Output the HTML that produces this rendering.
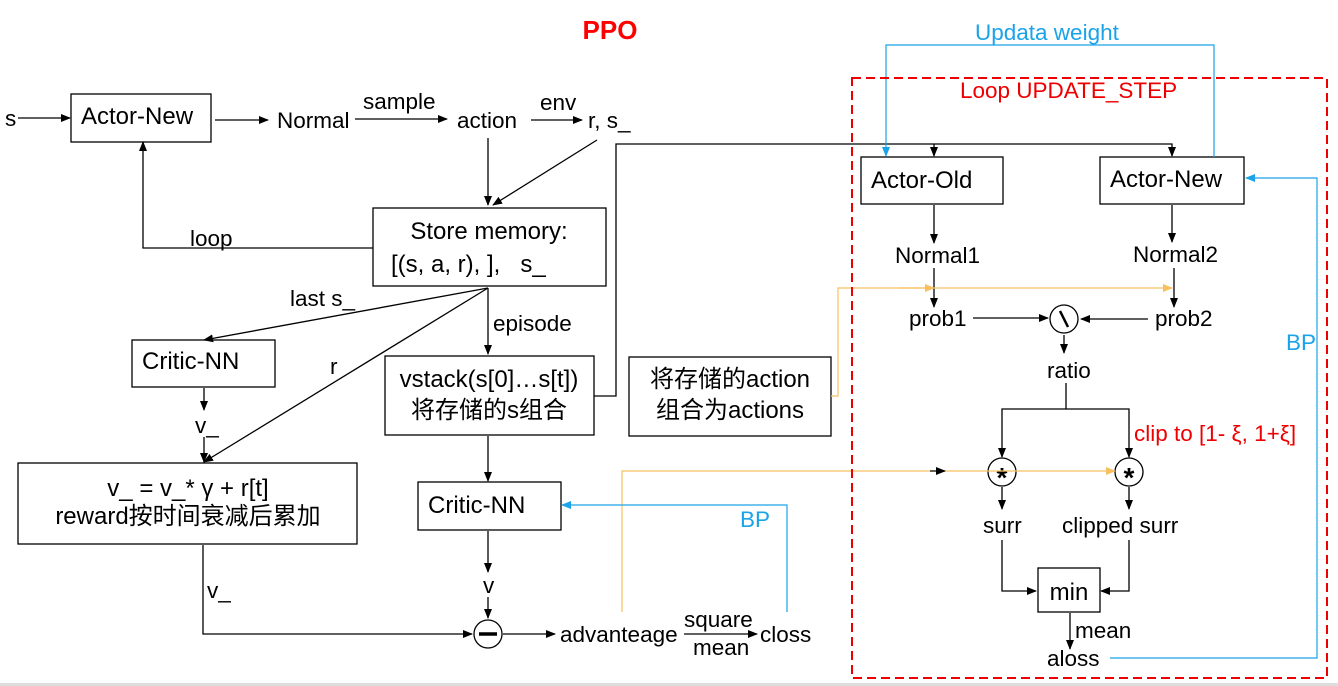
<!DOCTYPE html>
<html><head><meta charset="utf-8"><style>
html,body{margin:0;padding:0;background:#fff}
svg{display:block}
text{font-family:"Liberation Sans","Noto Sans CJK SC",sans-serif;font-size:24px;fill:#000}
.s{font-size:22.5px}
</style></head><body>
<svg width="1338" height="686" viewBox="0 0 1338 686" xmlns="http://www.w3.org/2000/svg">
<defs>
<marker id="a" markerWidth="10" markerHeight="8" refX="9" refY="4" orient="auto" markerUnits="userSpaceOnUse"><path d="M0,0 L10,4 L0,8 z" fill="#000"/></marker>
<marker id="b" markerWidth="10" markerHeight="8" refX="9" refY="4" orient="auto" markerUnits="userSpaceOnUse"><path d="M0,0 L10,4 L0,8 z" fill="#1aa3e8"/></marker>
<marker id="o" markerWidth="10" markerHeight="8" refX="9" refY="4" orient="auto" markerUnits="userSpaceOnUse"><path d="M0,0 L10,4 L0,8 z" fill="#f8c060"/></marker>
</defs>
<rect x="0" y="683" width="1338" height="3" fill="#ddd"/>
<text x="610" y="39" text-anchor="middle" style="font-size:26px;font-weight:bold;fill:#f00">PPO</text>

<g stroke="#000" stroke-width="1.3" fill="none">
<line x1="18" y1="118" x2="70" y2="118" marker-end="url(#a)"/>
<rect x="71" y="94" width="140" height="48"/>
<line x1="215" y1="120" x2="268" y2="120" marker-end="url(#a)"/>
<line x1="355" y1="119" x2="447" y2="119" marker-end="url(#a)"/>
<line x1="531" y1="120" x2="582" y2="120" marker-end="url(#a)"/>
<line x1="488" y1="138" x2="488" y2="205" marker-end="url(#a)"/>
<line x1="597" y1="140" x2="493" y2="205" marker-end="url(#a)"/>
<rect x="373" y="208" width="233" height="78"/>
<polyline points="373,248 143,248 143,142" marker-end="url(#a)"/>
<line x1="488" y1="288" x2="204" y2="340" marker-end="url(#a)"/>
<line x1="488" y1="288" x2="204" y2="462" marker-end="url(#a)"/>
<line x1="488" y1="288" x2="488" y2="354" marker-end="url(#a)"/>
<rect x="132" y="340" width="143" height="47"/>
<line x1="204" y1="388" x2="204" y2="410" marker-end="url(#a)"/>
<line x1="204" y1="437" x2="204" y2="462" marker-end="url(#a)"/>
<rect x="18" y="463" width="339" height="81"/>
<polyline points="203,545 203,634 472,634" marker-end="url(#a)"/>
<rect x="385" y="356" width="209" height="79"/>
<polyline points="594,396 616,396 616,144 1172,144 1172,156" marker-end="url(#a)"/>
<line x1="934" y1="144" x2="934" y2="156" marker-end="url(#a)"/>
<rect x="629" y="357" width="202" height="79"/>
<line x1="488" y1="436" x2="488" y2="481" marker-end="url(#a)"/>
<rect x="418" y="482" width="143" height="48"/>
<line x1="488" y1="531" x2="488" y2="572" marker-end="url(#a)"/>
<line x1="488" y1="597" x2="488" y2="618" marker-end="url(#a)"/>
<circle cx="488" cy="634" r="14"/>
<line x1="503" y1="634" x2="555" y2="634" marker-end="url(#a)"/>
<line x1="684" y1="634" x2="757" y2="634" marker-end="url(#a)"/>

<rect x="861" y="157" width="142" height="47"/>
<rect x="1100" y="157" width="144" height="47"/>
<line x1="934" y1="205" x2="934" y2="243" marker-end="url(#a)"/>
<line x1="1172" y1="205" x2="1172" y2="242" marker-end="url(#a)"/>
<line x1="934" y1="268" x2="934" y2="307" marker-end="url(#a)"/>
<line x1="1174" y1="268" x2="1174" y2="307" marker-end="url(#a)"/>
<circle cx="1064" cy="319" r="14"/>
<line x1="973" y1="318" x2="1048" y2="318" marker-end="url(#a)"/>
<line x1="1148" y1="319" x2="1081" y2="319" marker-end="url(#a)"/>
<line x1="1064" y1="335" x2="1064" y2="353" marker-end="url(#a)"/>
<polyline points="1066,383 1066,409 1002,409 1002,457" marker-end="url(#a)"/>
<polyline points="1066,409 1129,409 1129,457" marker-end="url(#a)"/>
<circle cx="1002" cy="472" r="14"/>
<circle cx="1129" cy="472" r="14"/>
<line x1="1002" y1="487" x2="1002" y2="509" marker-end="url(#a)"/>
<line x1="1129" y1="487" x2="1129" y2="509" marker-end="url(#a)"/>
<polyline points="1002,540 1002,591 1036,591" marker-end="url(#a)"/>
<polyline points="1129,540 1129,591 1101,591" marker-end="url(#a)"/>
<rect x="1038" y="568" width="62" height="44"/>
<line x1="1070" y1="613" x2="1070" y2="649" marker-end="url(#a)"/>
</g>
<g stroke="#000" stroke-width="3.5">
<line x1="479" y1="634" x2="497" y2="634"/>
<line x1="1060" y1="311" x2="1068" y2="327" stroke-width="2.5"/>
</g>
<text x="1002" y="487" text-anchor="middle" style="font-size:28px;font-weight:bold">*</text>
<text x="1129" y="487" text-anchor="middle" style="font-size:28px;font-weight:bold">*</text>

<g fill="none" stroke-width="1.2">
<polyline points="831,396 838,396 838,288 1172,288" stroke="#f8c060" marker-end="url(#o)"/>
<line x1="900" y1="288" x2="934" y2="288" stroke="#f8c060" marker-end="url(#o)"/>
<polyline points="622,612 622,471 1115,471" stroke="#f8c060" marker-end="url(#o)"/>
<line x1="930" y1="471" x2="945" y2="471" stroke="#000" marker-end="url(#a)"/>
<polyline points="787,612 787,505 562,505" stroke="#1aa3e8" marker-end="url(#b)"/>
<polyline points="1214,157 1214,45 886,45 886,156" stroke="#1aa3e8" marker-end="url(#b)"/>
<polyline points="1110,658 1317,658 1317,178 1246,178" stroke="#1aa3e8" marker-end="url(#b)"/>
<rect x="852" y="78" width="475" height="600" stroke="#e00" stroke-width="2" stroke-dasharray="9,5"/>
</g>

<text x="5" y="126" class="s">s</text>
<text x="81" y="124">Actor-New</text>
<text x="277" y="128" class="s">Normal</text>
<text x="363" y="109" class="s">sample</text>
<text x="457" y="128" class="s">action</text>
<text x="540" y="110" class="s">env</text>
<text x="588" y="128" class="s">r, s_</text>
<text x="489" y="239" text-anchor="middle">Store memory:</text>
<text x="391" y="272">[(s, a, r), ],&#160;&#160;&#160;s_</text>
<text x="190" y="246" class="s">loop</text>
<text x="290" y="306" class="s">last s_</text>
<text x="330" y="374" class="s">r</text>
<text x="493" y="331" class="s">episode</text>
<text x="142" y="369">Critic-NN</text>
<text x="195" y="433" class="s">v_</text>
<text x="188" y="496" text-anchor="middle">v_ = v_* γ + r[t]</text>
<text x="188" y="524" text-anchor="middle">reward按时间衰减后累加</text>
<text x="207" y="598" class="s">v_</text>
<text x="489" y="387" text-anchor="middle">vstack(s[0]…s[t])</text>
<text x="489" y="418" text-anchor="middle">将存储的s组合</text>
<text x="730" y="387" text-anchor="middle">将存储的action</text>
<text x="730" y="418" text-anchor="middle">组合为actions</text>
<text x="428" y="513">Critic-NN</text>
<text x="483" y="593" class="s">v</text>
<text x="560" y="642" class="s">advanteage</text>
<text x="684" y="627" class="s">square</text>
<text x="693" y="655" class="s">mean</text>
<text x="760" y="642" class="s">closs</text>
<text x="740" y="527" class="s" style="fill:#1aa3e8">BP</text>
<text x="975" y="40" class="s" style="fill:#1aa3e8">Updata weight</text>
<text x="960" y="98" class="s" style="fill:#e00">Loop UPDATE_STEP</text>
<text x="871" y="188">Actor-Old</text>
<text x="1110" y="187">Actor-New</text>
<text x="895" y="263" class="s">Normal1</text>
<text x="1133" y="262" class="s">Normal2</text>
<text x="909" y="326" class="s">prob1</text>
<text x="1155" y="326" class="s">prob2</text>
<text x="1047" y="378" class="s">ratio</text>
<text x="1134" y="441" class="s" style="fill:#e00">clip to [1- ξ, 1+ξ]</text>
<text x="983" y="533" class="s">surr</text>
<text x="1062" y="533" class="s">clipped surr</text>
<text x="1069" y="600" text-anchor="middle">min</text>
<text x="1075" y="638" class="s">mean</text>
<text x="1047" y="666" class="s">aloss</text>
<text x="1286" y="350" class="s" style="fill:#1aa3e8">BP</text>
</svg>
</body></html>
